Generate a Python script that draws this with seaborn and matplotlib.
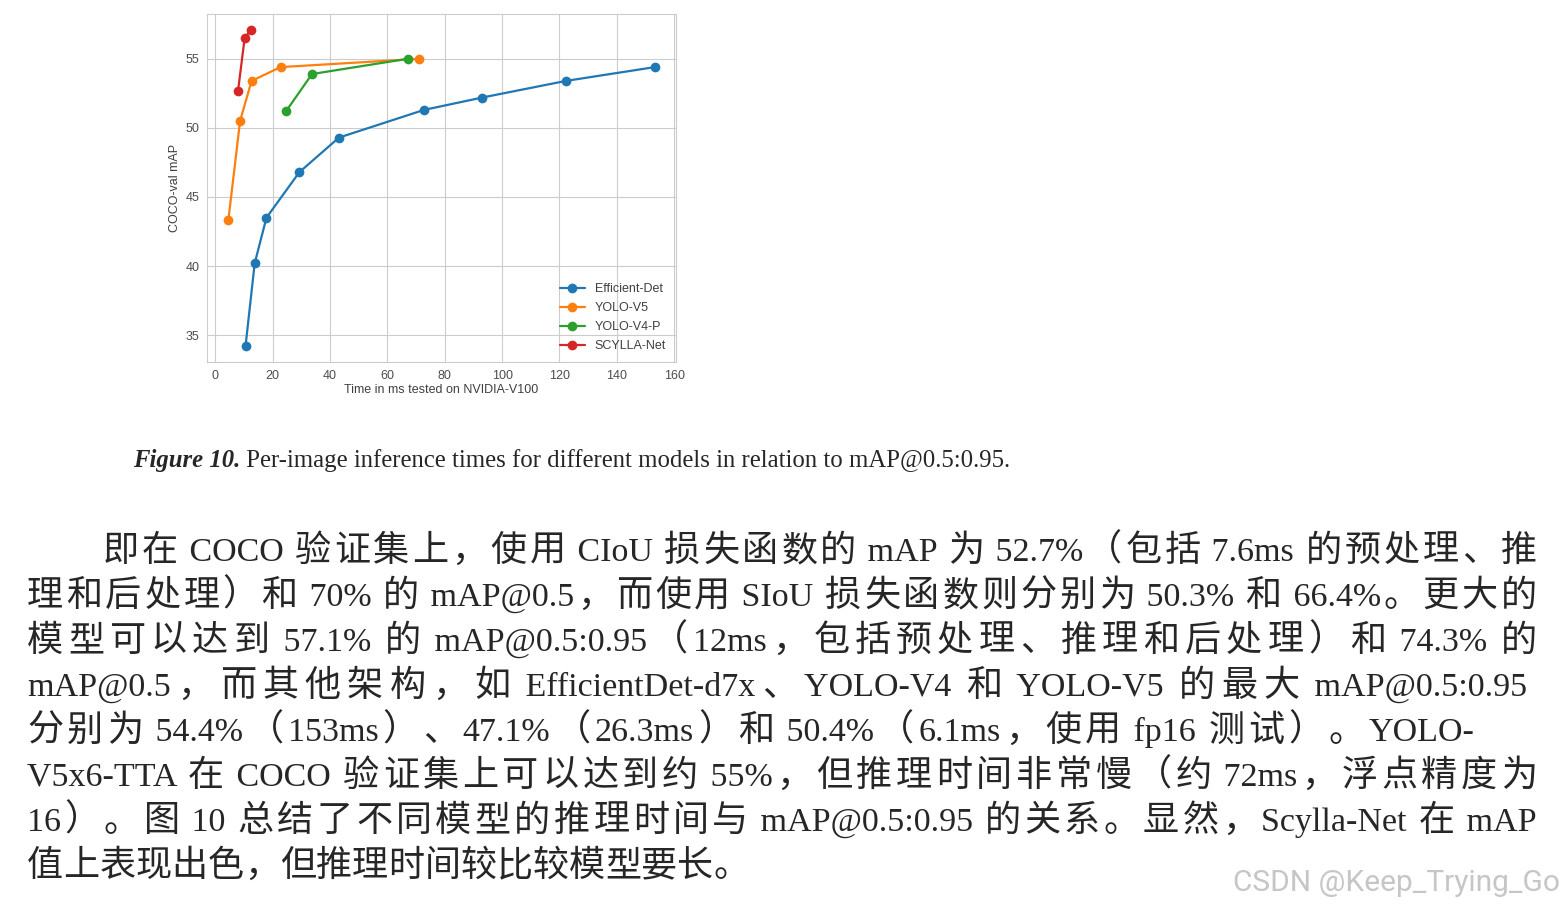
import pandas as pd
import seaborn as sns
import matplotlib.pyplot as plt

W, H = 1566, 909

# values (time in ms, COCO-val mAP)
effdet_t = [10.5, 13.7, 17.8, 29.3, 43.1, 72.7, 93.1, 122.2, 153.2]
effdet_map = [34.2, 40.2, 43.5, 46.8, 49.3, 51.3, 52.2, 53.4, 54.4]
yolov5_t = [4.5, 8.6, 12.6, 22.7, 71.1]
yolov5_map = [43.3, 50.5, 53.4, 54.4, 55.0]
yolov4p_t = [24.6, 33.7, 67.0]
yolov4p_map = [51.2, 53.9, 55.0]
scylla_t = [7.9, 10.2, 12.3]
scylla_map = [52.7, 56.5, 57.1]

models = ['Efficient-Det', 'YOLO-V5', 'YOLO-V4-P', 'SCYLLA-Net']
x_ticks = [0, 20, 40, 60, 80, 100, 120, 140, 160]
y_ticks = [35, 40, 45, 50, 55]

caption_bold = 'Figure 10.'
caption_rest = ' Per-image inference times for different models in relation to mAP@0.5:0.95.'

para_lines = [
    '即在 COCO 验证集上，使用 CIoU 损失函数的 mAP 为 52.7%（包括 7.6ms 的预处理、推',
    '理和后处理）和 70% 的 mAP@0.5，而使用 SIoU 损失函数则分别为 50.3% 和 66.4%。更大的',
    '模型可以达到 57.1% 的 mAP@0.5:0.95（12ms，包括预处理、推理和后处理）和 74.3% 的',
    'mAP@0.5，而其他架构，如 EfficientDet-d7x、YOLO-V4 和 YOLO-V5 的最大 mAP@0.5:0.95',
    '分别为 54.4%（153ms）、47.1%（26.3ms）和 50.4%（6.1ms，使用 fp16 测试）。YOLO-',
    'V5x6-TTA 在 COCO 验证集上可以达到约 55%，但推理时间非常慢（约 72ms，浮点精度为',
    '16）。图 10 总结了不同模型的推理时间与 mAP@0.5:0.95 的关系。显然，Scylla-Net 在 mAP',
    '值上表现出色，但推理时间较比较模型要长。',
]
watermark = 'CSDN @Keep_Trying_Go'

df = pd.concat([
    pd.DataFrame({'t': effdet_t, 'map': effdet_map, 'model': models[0]}),
    pd.DataFrame({'t': yolov5_t, 'map': yolov5_map, 'model': models[1]}),
    pd.DataFrame({'t': yolov4p_t, 'map': yolov4p_map, 'model': models[2]}),
    pd.DataFrame({'t': scylla_t, 'map': scylla_map, 'model': models[3]}),
])

sns.set_style("whitegrid")
plt.rcParams['font.family'] = ['Liberation Sans', 'DejaVu Sans']

fig = plt.figure(figsize=(W / 100, H / 100), dpi=100)
ax = fig.add_axes([207 / W, 1 - 362 / H, 469 / W, 348 / H])
sns.lineplot(data=df, x='t', y='map', hue='model', style='model',
             hue_order=models, style_order=models, markers=['o'] * 4,
             dashes=False, estimator=None, sort=False, ax=ax,
             palette='tab10', markersize=7, linewidth=1.6,
             markeredgewidth=0)
ax.set_xticks(x_ticks)
ax.set_yticks(y_ticks)
ax.tick_params(labelsize=9, colors='.3', pad=2)
ax.set_xlabel('Time in ms tested on NVIDIA-V100', fontsize=9, color='.25',
              labelpad=2)
ax.set_ylabel('COCO-val mAP', fontsize=9, color='.25', labelpad=3)
ax.legend(loc='lower right', frameon=False, fontsize=9, handlelength=2.0,
          labelspacing=0.55, labelcolor='.25', borderaxespad=0.4)

renderer = fig.canvas.get_renderer()
serif = ['Liberation Serif', 'Noto Sans CJK SC']


def put(x, y, s, **kw):
    return fig.text(x / W, 1 - y / H, s, va='baseline', ha='left', **kw)


def width(t):
    return t.get_window_extent(renderer).width


# caption
t1 = put(133, 467, caption_bold, family=serif, fontsize=17.8,
         fontweight='bold', fontstyle='italic')
put(133 + width(t1), 467, caption_rest, family=serif, fontsize=17.8)


def is_cjk(ch):
    return ord(ch) >= 0x2E80


def tokens(s):
    out, cur = [], ''
    for ch in s:
        if is_cjk(ch):
            if cur:
                out.append(cur)
                cur = ''
            out.append(ch)
        else:
            cur += ch
    if cur:
        out.append(cur)
    return out


# justified paragraph, one text per glyph run
starts = [103, 27, 27, 27, 27, 27, 27, 27]
ends = [1537, 1537, 1537, 1527, 1475, 1537, 1537, None]
for i, line in enumerate(para_lines):
    y = 561 + 45 * i
    texts = []
    for tk in tokens(line):
        size = 26 if is_cjk(tk[0]) else 24.5
        texts.append(put(0, y, tk, family=serif, fontsize=size))
    ws = [width(t) for t in texts]
    gap = 0
    if ends[i] is not None and len(texts) > 1:
        gap = (ends[i] - starts[i] - sum(ws)) / (len(texts) - 1)
    x = starts[i]
    for t, w in zip(texts, ws):
        t.set_x(x / W)
        x += w + gap

put(1233, 891, watermark, family=['Roboto', 'DejaVu Sans'], fontsize=21.5,
    color='#c6c6c6')

fig.savefig('out.png', dpi=100)
